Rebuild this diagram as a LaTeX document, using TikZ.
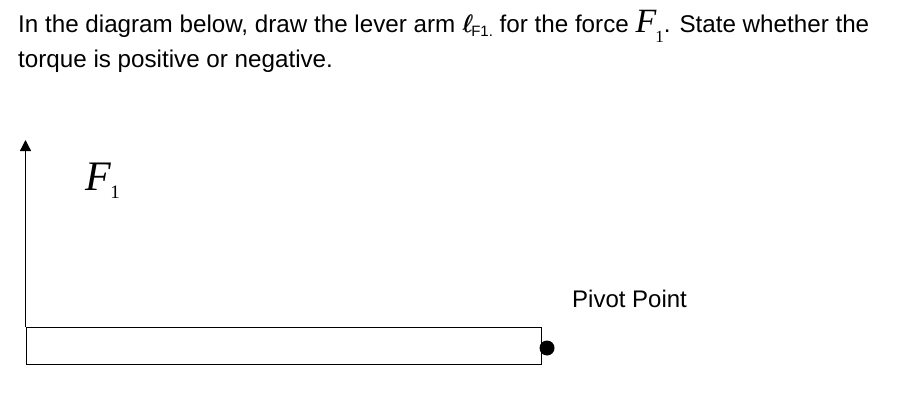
\documentclass[tikz,border=0pt]{standalone}
\usepackage{fontspec}
\setmainfont{Liberation Sans}
\newfontfamily\timesfont{Liberation Serif}
\newcommand{\boldell}{\rlap{$\ell$}\kern0.5pt\rlap{$\ell$}\kern0.5pt$\ell$}
\usetikzlibrary{arrows.meta}
\begin{document}
\begin{tikzpicture}[x=1pt,y=-1pt,
  txt/.style={inner sep=0pt, font=\fontsize{24.2}{28}\selectfont},
  bar/.style={draw, line width=1.3pt},
  force/.style={line width=1.3pt, -{Triangle[length=11pt,width=11pt]}}]
\useasboundingbox (0,0) rectangle (913,404);
\node[txt, anchor=base west] (title1) at (18,33) {In the diagram below, draw the lever arm {\fontsize{25}{25}\selectfont\boldell}\kern-2pt\raisebox{-4pt}{\fontsize{15}{15}\selectfont F1.} for the force {\timesfont\itshape\fontsize{34}{34}\selectfont F}\kern-1pt\raisebox{-10pt}{\timesfont\fontsize{17}{17}\selectfont 1}. State whether the};
\node[txt, anchor=base west] (title2) at (18,67) {torque is positive or negative.};
\node[bar, minimum width=515pt, minimum height=37pt, inner sep=0pt, anchor=north west] (lever) at (25.5,327) {};
\coordinate (tip) at (25.5,140);
\draw[force] (lever.north west) -- (tip);
\node[inner sep=0pt, anchor=base west] (flabel) at (85,190) {{\timesfont\itshape\fontsize{42}{42}\selectfont F}\kern-0.5pt\raisebox{-8pt}{\timesfont\fontsize{19}{19}\selectfont 1}};
\node[circle, fill=black, minimum size=15pt, inner sep=0pt] (pivot) at (547,348) {};
\node[inner sep=0pt, anchor=base west, font=\fontsize{24}{28}\selectfont] (pivlabel) at (572,307) {Pivot Point};
\end{tikzpicture}
\end{document}
